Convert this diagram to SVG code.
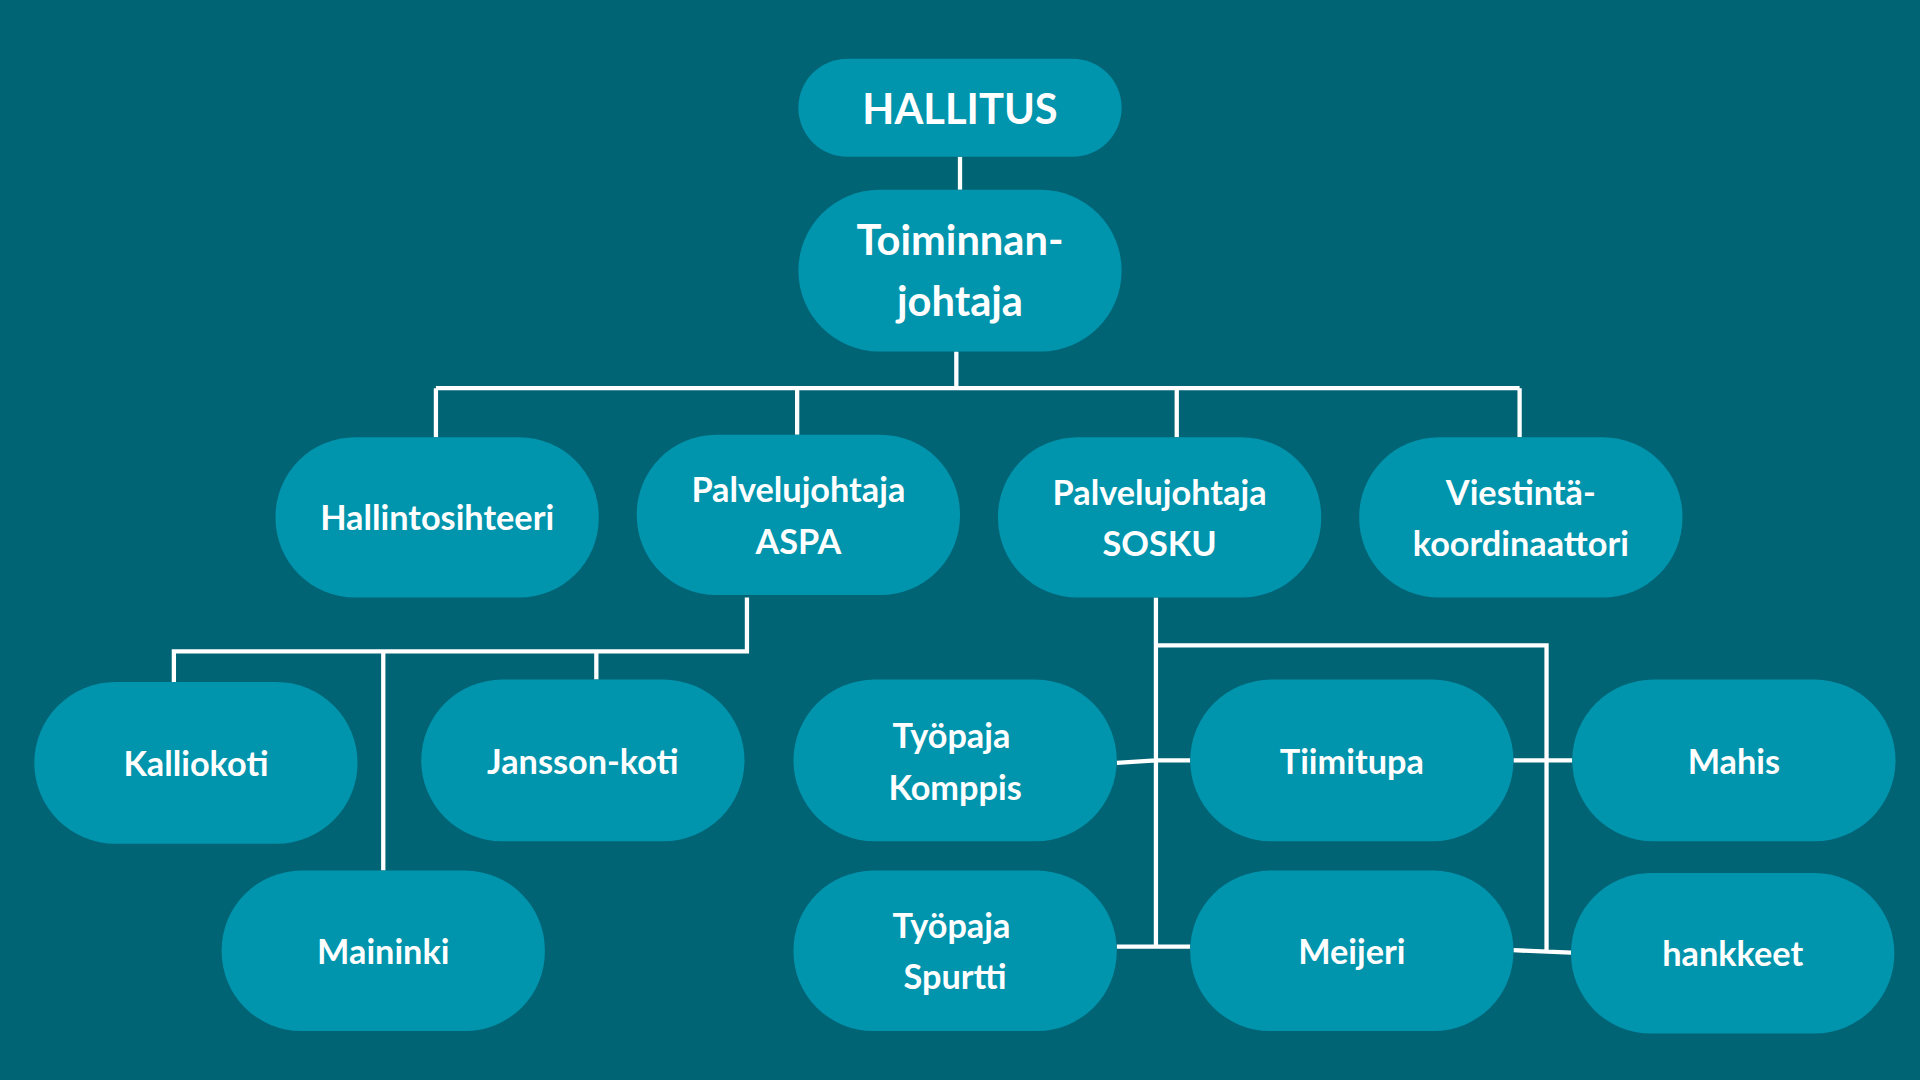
<svg xmlns="http://www.w3.org/2000/svg" width="1920" height="1080" viewBox="0 0 1920 1080">
<style>
.n{fill:#0094ad}
.t{fill:#fff;font-family:Lato,"Open Sans",sans-serif;font-weight:bold;font-size:28px;text-anchor:middle;dominant-baseline:central}
.c{stroke:#fff;stroke-width:3.5;fill:none}
</style>
<rect width="1920" height="1080" fill="#006475"/>
<g transform="scale(1.2245)">
<g id="connectors" class="c">
<path d="M784 128V155M781 287V317M356 317H1241M356 317V357M651 317V355M961 317V357M1241 317V357"/>
<path d="M610 488V532H142V557M313 532V711M487 532V555"/>
<path d="M944 488V773M944 527H1263V778M912 623L944 621H972M912 773L944 773H972M1236 621H1284M1236 776L1283 778"/>
</g>
<g id="hallitus"><rect class="n" x="652" y="48" width="264" height="80" rx="40"/><text class="t" x="784" y="88" style="font-size:34px">HALLITUS</text></g>
<g id="toiminnanjohtaja"><rect class="n" x="652" y="155" width="264" height="132" rx="66"/><text class="t" x="784" y="195" style="font-size:34px">Toiminnan-</text><text class="t" x="784" y="245" style="font-size:34px">johtaja</text></g>
<g id="hallintosihteeri"><rect class="n" x="225" y="357" width="264" height="131" rx="65"/><text class="t" x="357" y="422">Hallintosihteeri</text></g>
<g id="aspa"><rect class="n" x="520" y="355" width="264" height="131" rx="65"/><text class="t" x="652" y="399">Palvelujohtaja</text><text class="t" x="652" y="441">ASPA</text></g>
<g id="sosku"><rect class="n" x="815" y="357" width="264" height="131" rx="65"/><text class="t" x="947" y="401">Palvelujohtaja</text><text class="t" x="947" y="443">SOSKU</text></g>
<g id="viestinta"><rect class="n" x="1110" y="357" width="264" height="131" rx="65"/><text class="t" x="1242" y="401">Viestintä-</text><text class="t" x="1242" y="443">koordinaattori</text></g>
<g id="kalliokoti"><rect class="n" x="28" y="557" width="264" height="132" rx="66"/><text class="t" x="160" y="623">Kalliokoti</text></g>
<g id="jansson"><rect class="n" x="344" y="555" width="264" height="132" rx="66"/><text class="t" x="476" y="621">Jansson-koti</text></g>
<g id="maininki"><rect class="n" x="181" y="711" width="264" height="131" rx="65"/><text class="t" x="313" y="776">Maininki</text></g>
<g id="komppis"><rect class="n" x="648" y="555" width="264" height="132" rx="66"/><text class="t" x="777" y="600">Työpaja</text><text class="t" x="780" y="642">Komppis</text></g>
<g id="tiimitupa"><rect class="n" x="972" y="555" width="264" height="132" rx="66"/><text class="t" x="1104" y="621">Tiimitupa</text></g>
<g id="mahis"><rect class="n" x="1284" y="555" width="264" height="132" rx="66"/><text class="t" x="1416" y="621">Mahis</text></g>
<g id="spurtti"><rect class="n" x="648" y="711" width="264" height="131" rx="65"/><text class="t" x="777" y="755">Työpaja</text><text class="t" x="780" y="797">Spurtti</text></g>
<g id="meijeri"><rect class="n" x="972" y="711" width="264" height="131" rx="65"/><text class="t" x="1104" y="776">Meijeri</text></g>
<g id="hankkeet"><rect class="n" x="1283" y="713" width="264" height="131" rx="65"/><text class="t" x="1415" y="778">hankkeet</text></g>
</g>
</svg>
